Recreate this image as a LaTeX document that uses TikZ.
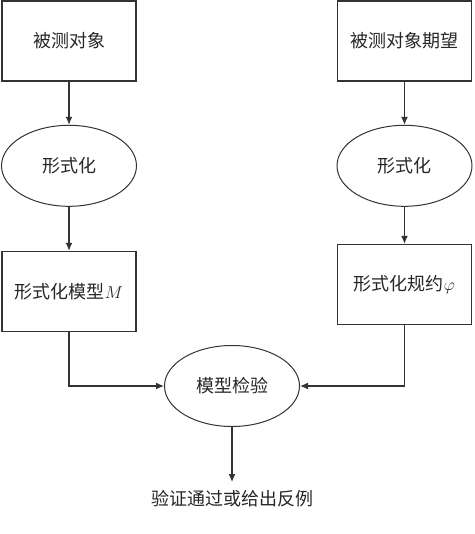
\documentclass[tikz,border=0pt]{standalone}
\usepackage{fontspec}
\setmainfont{Noto Sans CJK SC}
\usepackage{tikz}
\usepackage{xcolor}
\usetikzlibrary{arrows.meta,shapes.geometric,positioning}

\begin{document}
\begin{tikzpicture}[
                x=1pt, y=1pt,
                >={Latex[length=8pt,width=7pt]}]
        \tikzset{
                basic/.style = {draw=black!80, text=black!85, align=center,
                                font=\fontsize{18}{21}\selectfont},
                box/.style   = {basic, rectangle, line width=1.6pt,
                                minimum width=134pt, minimum height=80pt},
                oval/.style  = {basic, ellipse, line width=1pt,
                                minimum width=135pt, minimum height=81pt},
                link/.style  = {->, draw=black!80, line width=1.2pt}
        }
        \useasboundingbox (0,0) rectangle (474,-534);

        % left column: the system under test
        \node[box] (obj) at (69,-41) {被测对象};
        \node[oval, below=43pt of obj] (formA) {形式化};
        \node[box, below=44pt of formA] (model) {形式化模型$M$};

        % right column: the expected properties
        \node[box] (spec) at (404.5,-41) {被测对象期望};
        \node[oval, below=43pt of spec] (formB) {形式化};
        \node[box, below=37pt of formB] (specb) {形式化规约$\varphi$};

        % model checking and its outcome
        \node[oval] (check) at (232,-386) {模型检验};
        \node[below=55pt of check, inner sep=8pt, text=black!85,
              font=\fontsize{18}{21}\selectfont] (result) {验证通过或给出反例};

        % straight arrows down each column
        \foreach \from/\to in {obj/formA, formA/model, spec/formB, formB/specb} {
                \draw[link] (\from) -- (\to);
        };

        % both columns meet at the checker
        \draw[link] (model.south) |- (check.west);
        \draw[link] (specb.south) |- (check.east);
        \draw[link] (check) -- (result);

\end{tikzpicture}
\end{document}
